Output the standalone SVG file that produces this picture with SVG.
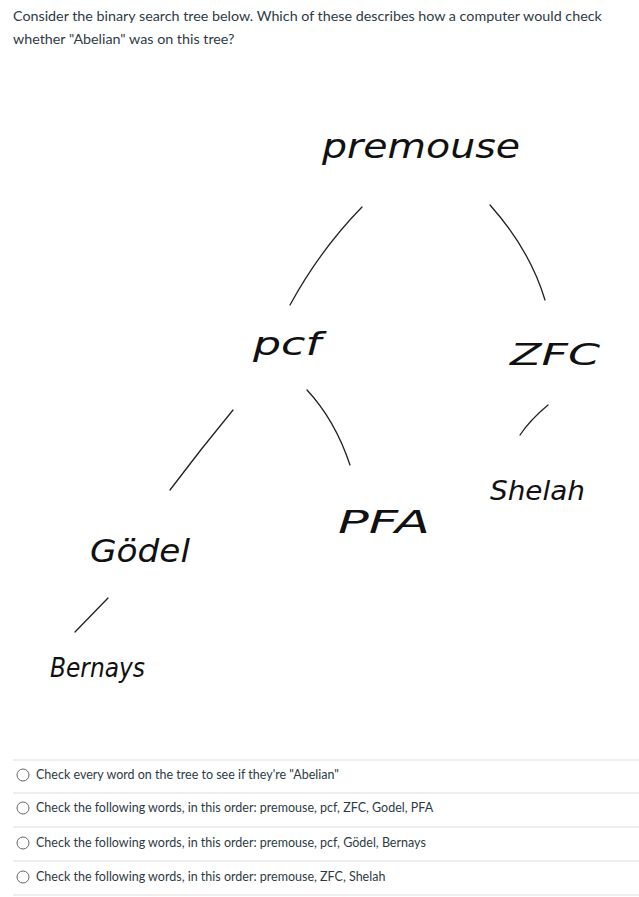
<svg xmlns="http://www.w3.org/2000/svg" width="639" height="897" viewBox="0 0 639 897">
<style>
.q{font-family:Lato,"Liberation Sans",sans-serif;font-size:14.3px;fill:#2d3b45}
.o{font-family:Lato,"Liberation Sans",sans-serif;font-size:12.5px;fill:#2d3b45}
.h{font-family:"DejaVu Sans","Liberation Sans",sans-serif;font-weight:200;fill:#111;font-style:italic}
.e{stroke:#222;stroke-width:1.3;fill:none;stroke-linecap:round}
.sep{stroke:#ddd;stroke-width:1}
.r{fill:#fff;stroke:#666;stroke-width:1}
</style>
<rect width="639" height="897" fill="#fff"/>
<text class="q" x="13" y="21">Consider the binary search tree below. Which of these describes how a computer would check</text>
<text class="q" x="13" y="44">whether "Abelian" was on this tree?</text>
<g id="connectors">
<path class="e" d="M362,207 Q320,250 290,305"/>
<path class="e" d="M490,205 Q530,250 545,300"/>
<path class="e" d="M233,410 Q200,450 170,490"/>
<path class="e" d="M307,390 Q335,420 350,465"/>
<path class="e" d="M548,405 Q530,420 520,435"/>
<path class="e" d="M108,598 L75,632"/>
</g>
<g id="premouse"><text class="h" x="322" y="158" font-size="34" textLength="198" lengthAdjust="spacingAndGlyphs">premouse</text></g>
<g id="pcf"><text class="h" x="253" y="355" font-size="32" textLength="68" lengthAdjust="spacingAndGlyphs">pcf</text></g>
<g id="ZFC"><text class="h" x="510" y="365" font-size="30" textLength="90" lengthAdjust="spacingAndGlyphs">ZFC</text></g>
<g id="Shelah"><text class="h" x="490" y="500" font-size="26" textLength="95" lengthAdjust="spacingAndGlyphs">Shelah</text></g>
<g id="PFA"><text class="h" x="338" y="533" font-size="32" textLength="92" lengthAdjust="spacingAndGlyphs">PFA</text></g>
<g id="Godel"><text class="h" x="90" y="562" font-size="32" textLength="100" lengthAdjust="spacingAndGlyphs">Gödel</text></g>
<g id="Bernays"><text class="h" x="50" y="677" font-size="26" textLength="95" lengthAdjust="spacingAndGlyphs">Bernays</text></g>
<line class="sep" x1="13" y1="760" x2="639" y2="760"/>
<line class="sep" x1="13" y1="793" x2="639" y2="793"/>
<line class="sep" x1="13" y1="827" x2="639" y2="827"/>
<line class="sep" x1="13" y1="861" x2="639" y2="861"/>
<line class="sep" x1="13" y1="895" x2="639" y2="895"/>
<circle class="r" cx="23" cy="775" r="6"/>
<circle class="r" cx="23" cy="808" r="6"/>
<circle class="r" cx="23" cy="843" r="6"/>
<circle class="r" cx="23" cy="877" r="6"/>
<text class="o" x="36" y="779">Check every word on the tree to see if they're "Abelian"</text>
<text class="o" x="36" y="812">Check the following words, in this order: premouse, pcf, ZFC, Godel, PFA</text>
<text class="o" x="36" y="847">Check the following words, in this order: premouse, pcf, Gödel, Bernays</text>
<text class="o" x="36" y="881">Check the following words, in this order: premouse, ZFC, Shelah</text>
</svg>
